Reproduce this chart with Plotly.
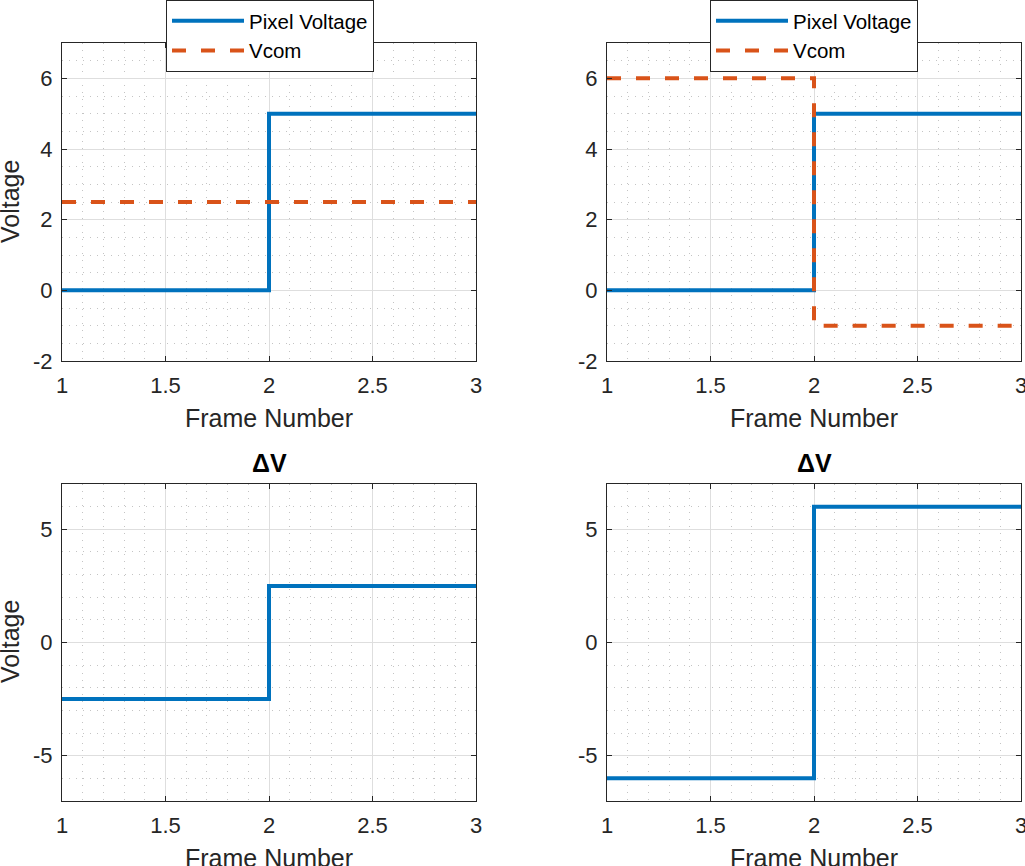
import plotly.graph_objects as go

# ---- data ----
frames = [1, 2, 3]
pixel_voltage = [0, 5, 5]
vcom_left = [2.5, 2.5, 2.5]
vcom_right = [6, -1, -1]
dv_left = [-2.5, 2.5, 2.5]
dv_right = [-6, 6, 6]

x_tickvals = [1, 1.5, 2, 2.5, 3]
x_ticktext = ["1", "1.5", "2", "2.5", "3"]
top_tickvals = [-2, 0, 2, 4, 6]
top_ticktext = ["-2", "0", "2", "4", "6"]
bot_tickvals = [-5, 0, 5]
bot_ticktext = ["-5", "0", "5"]

BLUE = "#0072BD"
ORANGE = "#D95319"
TXT = "#262626"
FONT = "Liberation Sans, Arial, sans-serif"

W, H = 1025, 866

def px_x(p):
    return p / W

def px_y(p):
    return 1 - p / H

fig = go.Figure()

# top-left
fig.add_trace(go.Scatter(x=frames, y=pixel_voltage, mode="lines", line_shape="hv",
                         line=dict(color=BLUE, width=4), name="Pixel Voltage",
                         xaxis="x", yaxis="y", legend="legend"))
fig.add_trace(go.Scatter(x=frames, y=vcom_left, mode="lines", line_shape="hv",
                         line=dict(color=ORANGE, width=4, dash="14px,15px"), name="Vcom",
                         xaxis="x", yaxis="y", legend="legend"))
# top-right
fig.add_trace(go.Scatter(x=frames, y=pixel_voltage, mode="lines", line_shape="hv",
                         line=dict(color=BLUE, width=4), name="Pixel Voltage",
                         xaxis="x2", yaxis="y2", legend="legend2"))
fig.add_trace(go.Scatter(x=frames, y=vcom_right, mode="lines", line_shape="hv",
                         line=dict(color=ORANGE, width=4, dash="14px,15px"), name="Vcom",
                         xaxis="x2", yaxis="y2", legend="legend2"))
# bottom-left
fig.add_trace(go.Scatter(x=frames, y=dv_left, mode="lines", line_shape="hv",
                         line=dict(color=BLUE, width=4), showlegend=False,
                         xaxis="x3", yaxis="y3"))
# bottom-right
fig.add_trace(go.Scatter(x=frames, y=dv_right, mode="lines", line_shape="hv",
                         line=dict(color=BLUE, width=4), showlegend=False,
                         xaxis="x4", yaxis="y4"))

def xax(domain, anchor):
    return dict(domain=domain, anchor=anchor, range=[1, 3], automargin=False,
                tickmode="array", tickvals=x_tickvals, ticktext=x_ticktext,
                ticklabeloverflow="allow",
                showline=True, linecolor=TXT, linewidth=1, mirror="ticks",
                ticks="inside", ticklen=5, tickcolor=TXT,
                showgrid=True, gridcolor="#dedede", gridwidth=1, zeroline=False,
                tickfont=dict(family=FONT, size=22, color=TXT),
                ticklabelstandoff=5,
                minor=dict(dtick=0.1, tick0=1, showgrid=True, gridcolor="#c4c4c4",
                           griddash="1px,6px", gridwidth=1, ticks=""))

def yax(domain, anchor, rng, tv, tt, mdt):
    return dict(domain=domain, anchor=anchor, range=rng, automargin=False,
                tickmode="array", tickvals=tv, ticktext=tt,
                ticklabeloverflow="allow",
                showline=True, linecolor=TXT, linewidth=1, mirror="ticks",
                ticks="inside", ticklen=5, tickcolor=TXT,
                showgrid=True, gridcolor="#dedede", gridwidth=1, zeroline=False,
                tickfont=dict(family=FONT, size=22, color=TXT),
                ticklabelstandoff=4,
                minor=dict(dtick=mdt, tick0=0, showgrid=True, gridcolor="#c4c4c4",
                           griddash="1px,6px", gridwidth=1, ticks=""))

xl = [px_x(62), px_x(476)]
xr = [px_x(607), px_x(1021)]
yt = [px_y(361), px_y(43)]
yb = [px_y(801), px_y(484)]

legend_common = dict(bgcolor="white", bordercolor=TXT, borderwidth=1,
                     font=dict(family=FONT, size=20.5, color="black"),
                     xanchor="center", yanchor="top", y=1.0, itemwidth=72,
                     tracegroupgap=0)

annotations = []
def ann(text, x, y, size=25, angle=0, bold=False):
    annotations.append(dict(text=f"<b>{text}</b>" if bold else text,
                            x=px_x(x), y=px_y(y), xref="paper", yref="paper",
                            showarrow=False, textangle=angle,
                            xanchor="center", yanchor="middle",
                            font=dict(family=FONT, size=size, color="black" if bold else TXT)))

ann("Frame Number", 269, 418)
ann("Frame Number", 814, 858)
ann("Frame Number", 269, 858)
ann("Frame Number", 814, 418)
ann("Voltage", 10, 202, angle=-90)
ann("Voltage", 10, 642, angle=-90)
ann("ΔV", 269, 463, bold=True)
ann("ΔV", 814, 463, bold=True)

fig.update_layout(
    width=W, height=H, margin=dict(l=0, r=0, t=0, b=0, autoexpand=False),
    paper_bgcolor="white", plot_bgcolor="white",
    font=dict(family=FONT, color=TXT),
    xaxis=xax(xl, "y"), yaxis=yax(yt, "x", [-2, 7], top_tickvals, top_ticktext, 0.5),
    xaxis2=xax(xr, "y2"), yaxis2=yax(yt, "x2", [-2, 7], top_tickvals, top_ticktext, 0.5),
    xaxis3=xax(xl, "y3"), yaxis3=yax(yb, "x3", [-7, 7], bot_tickvals, bot_ticktext, 1),
    xaxis4=xax(xr, "y4"), yaxis4=yax(yb, "x4", [-7, 7], bot_tickvals, bot_ticktext, 1),
    legend=dict(x=px_x(270), **legend_common),
    legend2=dict(x=px_x(814), **legend_common),
    annotations=annotations,
    showlegend=True,
)

fig.write_html("out.html")
